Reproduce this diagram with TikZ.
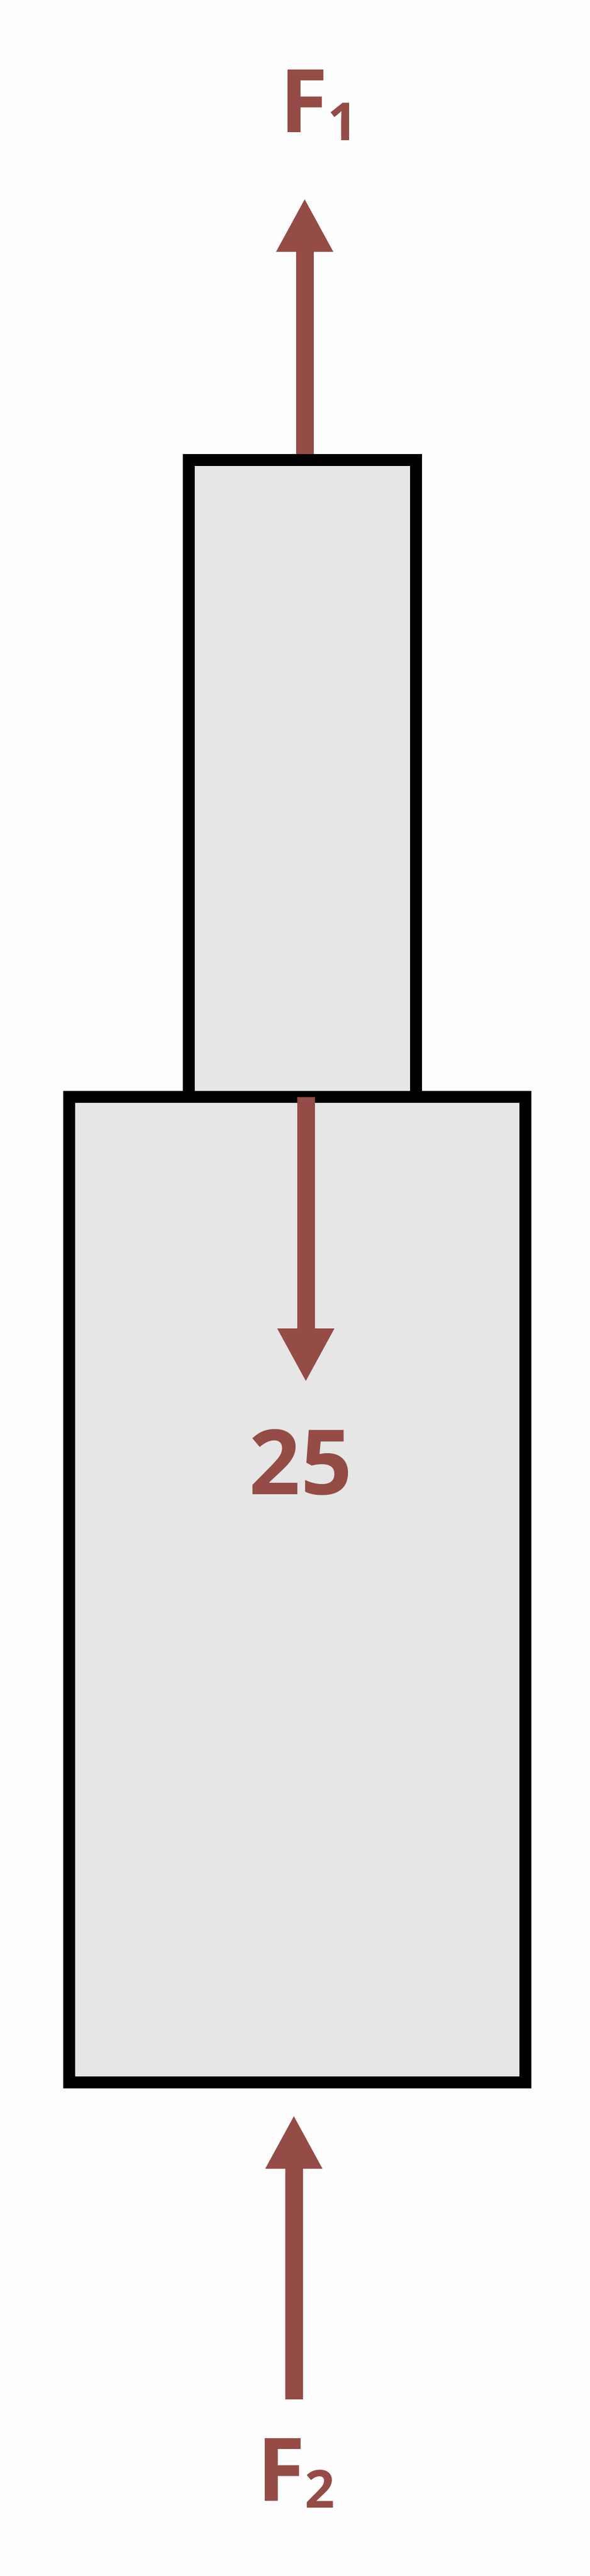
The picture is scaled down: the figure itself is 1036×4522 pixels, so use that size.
\documentclass[tikz,border=0pt]{standalone}
\usepackage{fontspec}
\setmainfont{Open Sans}[BoldFont={* Bold}]
\usetikzlibrary{arrows.meta}
\definecolor{forcered}{RGB}{149,75,70}
\definecolor{blockgray}{RGB}{230,230,230}
\definecolor{bgcol}{RGB}{253,253,253}
\tikzset{
  block/.style={draw=black, fill=blockgray, line width=21pt, rectangle, inner sep=0pt, outer sep=0pt},
  force/.style={draw=forcered, line width=31pt, -{Triangle[width=93pt,length=94pt]}},
  lbl/.style={text=forcered, inner sep=0pt, outer sep=0pt, font=\bfseries\fontsize{154}{160}\selectfont}
}
\begin{document}
\begin{tikzpicture}[x=1pt,y=-1pt]
\fill[bgcol] (0,0) rectangle (1036,4522);
\useasboundingbox (0,0) rectangle (1036,4522);
% blocks
\node[block, minimum width=800.5pt, minimum height=1730pt] (big) at (521.75,2790.5) {};
\node[block, minimum width=399pt, minimum height=1118.5pt] (small) at (531,1366.25) {};
% force F1
\coordinate (f1base) at (535,807);
\coordinate (f1tip) at (535,348);
\begin{scope}[on background layer/.try]
\end{scope}
\draw[force] (f1base) -- (f1tip);
\draw[block, fill=none] (small.north west) -- (small.north east);
% inner downward force
\coordinate (wbase) at (537,1926);
\coordinate (wtip) at (537,2426);
\draw[force] (wbase) -- (wtip);
% F2
\coordinate (f2base) at (516,4212);
\coordinate (f2tip) at (516,3713);
\draw[force] (f2base) -- (f2tip);
% labels
\node[lbl, anchor=base west] (F1) at (491,232) {F\raisebox{-14pt}{\fontsize{92}{92}\selectfont 1}};
\node[lbl, anchor=base west] (F2) at (451,4390) {F\raisebox{-12pt}{\fontsize{92}{92}\selectfont 2}};
\node[lbl, font=\bfseries\fontsize{158}{160}\selectfont, anchor=base] (w) at (528,2623) {25};
\end{tikzpicture}
\end{document}
